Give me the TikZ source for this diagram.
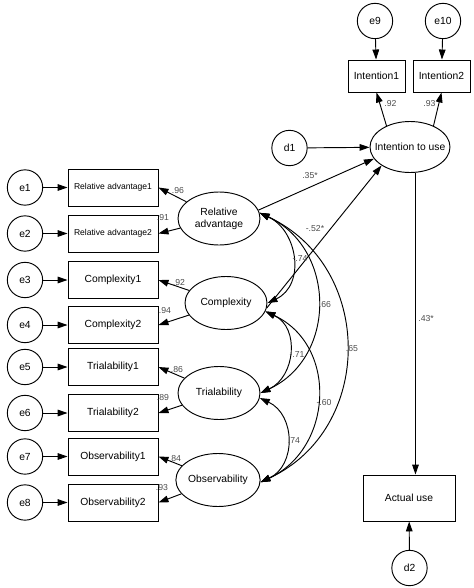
\documentclass[tikz,border=0pt]{standalone}
\usepackage{fontspec}
\setmainfont{Liberation Sans}
\usetikzlibrary{shapes.geometric,arrows.meta}
\tikzset{
  semnode/.style={draw=black, line width=0.8pt, inner sep=0pt,
    font=\fontsize{8.8}{10.4}\selectfont},
  errcirc/.style={semnode, circle, minimum size=10.6mm},
  obsbox/.style={semnode, rectangle, minimum width=27mm, minimum height=11.1mm},
  smallbox/.style={obsbox, font=\fontsize{7.3}{8.5}\selectfont},
  intbox/.style={semnode, rectangle, minimum width=17.1mm, minimum height=9.6mm},
  latent/.style={semnode, ellipse, minimum width=24.6mm, minimum height=15.9mm,
    align=center},
  pathto/.style={-{Triangle[length=3mm, width=2mm]}, line width=0.8pt},
  corr/.style={{Triangle[length=3mm, width=2mm]}-{Triangle[length=3mm, width=2mm]},
    line width=0.8pt, out=-25, in=25, looseness=1.2},
  coef/.style={font=\fontsize{7.4}{8}\selectfont, text=black!70, inner sep=1pt},
}

\begin{document}
\begin{tikzpicture}[x=0.3mm, y=0.3mm]
\useasboundingbox (0,0) rectangle (474,-588);
% measurement errors and indicators
\node[errcirc] (e1) at (25,-187.5) {e1};
\node[errcirc] (e2) at (25,-233.5) {e2};
\node[errcirc] (e3) at (25,-280) {e3};
\node[errcirc] (e4) at (25,-325) {e4};
\node[errcirc] (e5) at (25,-367) {e5};
\node[errcirc] (e6) at (25,-413) {e6};
\node[errcirc] (e7) at (25,-456.5) {e7};
\node[errcirc] (e8) at (25,-502.5) {e8};
\node[smallbox] (ra1) at (113,-187.5) {Relative advantage1};
\node[smallbox] (ra2) at (113,-233.5) {Relative advantage2};
\node[obsbox] (cx1) at (113,-280) {Complexity1};
\node[obsbox] (cx2) at (113,-325) {Complexity2};
\node[obsbox] (tr1) at (113,-367) {Trialability1};
\node[obsbox] (tr2) at (113,-413) {Trialability2};
\node[obsbox] (ob1) at (113,-456.5) {Observability1};
\node[obsbox] (ob2) at (113,-502.5) {Observability2};
\draw[pathto] (e1) -- (ra1); \draw[pathto] (e2) -- (ra2);
\draw[pathto] (e3) -- (cx1); \draw[pathto] (e4) -- (cx2);
\draw[pathto] (e5) -- (tr1); \draw[pathto] (e6) -- (tr2);
\draw[pathto] (e7) -- (ob1); \draw[pathto] (e8) -- (ob2);
% latent constructs
\node[latent] (ra) at (219,-218.5) {Relative\\advantage};
\node[latent] (cx) at (226,-303) {Complexity};
\node[latent] (tr) at (219,-393) {Trialability};
\node[latent] (ob) at (218,-480) {Observability};
\draw[pathto] (ra) -- (ra1.east); \draw[pathto] (ra) -- (ra2.east);
\draw[pathto] (cx) -- (cx1.east); \draw[pathto] (cx) -- (cx2.east);
\draw[pathto] (tr) -- (tr1.east); \draw[pathto] (tr) -- (tr2.east);
\draw[pathto] (ob) -- (ob1.east); \draw[pathto] (ob) -- (ob2.east);
\node[coef] at (178,-191) {.96};
\node[coef] at (163,-218) {.91};
\node[coef] at (179,-283) {.92};
\node[coef] at (165,-311) {.94};
\node[coef] at (177,-370) {.86};
\node[coef] at (163,-398) {.89};
\node[coef] at (175,-459) {.84};
\node[coef] at (162,-488) {.93};
% intention and actual use
\node[errcirc] (e9) at (375,-21) {e9};
\node[errcirc] (e10) at (443,-21) {e10};
\node[intbox] (int1) at (376.5,-76) {Intention1};
\node[intbox] (int2) at (441.5,-76) {Intention2};
\node[latent, minimum width=24mm, minimum height=15.3mm,
  label={[font=\fontsize{8.8}{10.4}\selectfont]center:Intention to use}] (itu) at (410,-147) {};
\node[errcirc] (d1) at (289.5,-148) {d1};
\node[semnode, rectangle, minimum width=27.6mm, minimum height=13.8mm] (au) at (409,-498) {Actual use};
\node[errcirc] (d2) at (409.5,-568) {d2};
\draw[pathto] (e9) -- (int1); \draw[pathto] (e10) -- (int2);
\draw[pathto] (itu.138) -- (int1.south); \draw[pathto] (itu.42) -- (int2.south);
\draw[pathto] (d1) -- (itu);
\draw[pathto] (itu.-78) -- (itu.-78 |- au.north);
\draw[pathto] (d2) -- (au);
\node[coef] at (390.5,-104) {.92};
\node[coef] at (429.5,-104) {.93};
\node[coef, anchor=west] at (417,-319) {.43*};
% structural paths
\draw[pathto] (ra.12) -- (itu.198);
\draw[pathto] (cx.-7) -- (itu.213);
\node[coef] at (310,-176) {.35*};
\node[coef] at (315,-229) {-.52*};
% correlations among the innovation attributes
\draw[corr] (ra.8) to (cx.0);
\draw[corr] (ra.8) to (tr.0);
\draw[corr] (ra.8) to (ob.-3);
\draw[corr] (cx.-12) to (tr.0);
\draw[corr] (cx.-12) to (ob.-3);
\draw[corr] (tr.-7) to (ob.-3);
\node[coef] at (300,-259) {-.74};
\node[coef] at (325,-305) {.66};
\node[coef] at (352,-349) {.65};
\node[coef] at (297,-355) {-.71};
\node[coef] at (324,-403) {-.60};
\node[coef] at (294,-441) {.74};
\end{tikzpicture}
\end{document}
